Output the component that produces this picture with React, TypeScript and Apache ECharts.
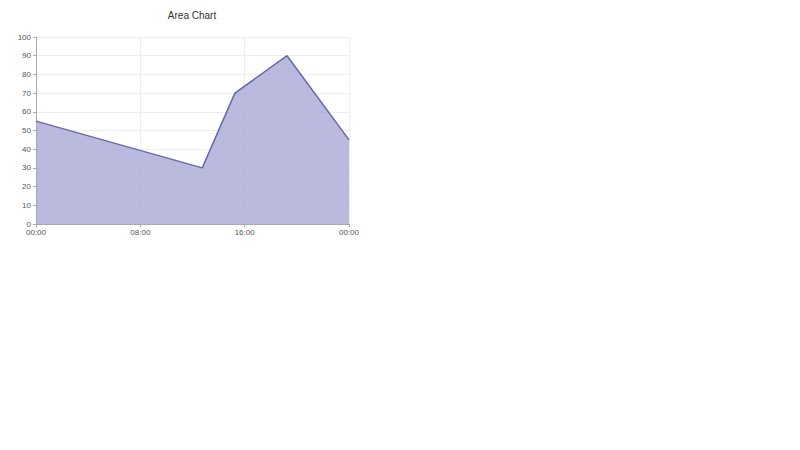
import React, { useEffect, useRef } from "react";
import * as echarts from "echarts";

// hours since midnight and their values
const hours = [0, 12.75, 15.25, 19.25, 24];
const values = [55, 30, 70, 90, 45];
const hourTicks = [0, 8, 16, 24];

const fmtHour = (v: number) => String(v % 24).padStart(2, "0") + ":00";

const App: React.FC = () => {
  const chartRef = useRef<HTMLDivElement>(null);

  useEffect(() => {
    document.body.style.margin = "0";
    if (!chartRef.current) return;
    const chart = echarts.init(chartRef.current, undefined, { renderer: "svg" });

    const option = {
      animation: false,
      title: {
        text: "Area Chart",
        left: "center",
        top: 5,
        textStyle: { fontSize: 10, fontWeight: "normal", color: "#333", fontFamily: "Liberation Sans" },
      },
      grid: { left: 36, right: 35, top: 37, bottom: 26 },
      xAxis: {
        type: "value",
        min: hourTicks[0],
        max: hourTicks[hourTicks.length - 1],
        interval: 8,
        axisLine: { show: true, lineStyle: { color: "#aaa" } },
        axisTick: { show: true, length: 3, lineStyle: { color: "#aaa" } },
        axisLabel: {
          formatter: fmtHour,
          fontSize: 8,
          color: "#555",
          margin: 4,
          fontFamily: "Liberation Sans",
        },
        splitLine: { show: true, lineStyle: { color: "#eee" } },
      },
      yAxis: {
        type: "value",
        min: 0,
        max: 100,
        interval: 10,
        axisLine: { show: true, lineStyle: { color: "#aaa" } },
        axisTick: { show: true, length: 3, lineStyle: { color: "#aaa" } },
        axisLabel: { fontSize: 8, color: "#555", margin: 5, fontFamily: "Liberation Sans" },
        splitLine: { show: true, lineStyle: { color: "#eee" } },
      },
      series: [
        {
          type: "line",
          data: hours.map((h, i) => [h, values[i]]),
          symbol: "none",
          lineStyle: { color: "#6967ad", width: 1.5 },
          areaStyle: { color: "#a3a1d3", opacity: 0.75 },
        },
      ],
    };

    chart.setOption(option);
    return () => chart.dispose();
  }, []);

  return <div ref={chartRef} style={{ width: 384, height: 250 }} />;
};

export default App;
